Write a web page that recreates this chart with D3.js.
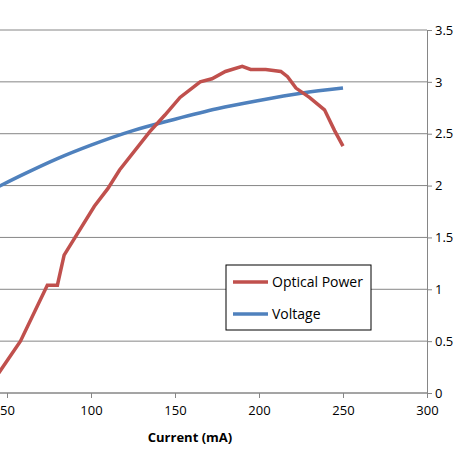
<!DOCTYPE html><html><head><script src="https://cdn.jsdelivr.net/npm/d3@7"></script>
<style>body{margin:0;background:#fff}text{font-family:"Open Sans","Liberation Sans",sans-serif}</style></head><body>
<svg id="c" width="470" height="470"></svg>
<script>
const xTicks=[50,100,150,200,250,300];
const yTicks=[0,0.5,1,1.5,2,2.5,3,3.5];
const powerX=[45,58,74,80,84,102,110,117,135,144,153,165,172,180,190,195,204,213,217,222,230,239,245,250];
const powerY=[0.19,0.5,1.04,1.04,1.33,1.8,1.97,2.15,2.52,2.68,2.85,3.0,3.03,3.1,3.15,3.12,3.12,3.1,3.05,2.94,2.85,2.73,2.53,2.38];
const voltX=[45,60,80,100,125,150,175,200,225,250];
const voltY=[1.99,2.11,2.26,2.39,2.53,2.64,2.74,2.82,2.89,2.94];
const svg=d3.select("#c");
const x=d3.scaleLinear().domain([50,300]).range([7,427]);
const y=d3.scaleLinear().domain([0,3.5]).range([393,30]);
svg.append("g").selectAll("line").data(yTicks).join("line")
 .attr("x1",0).attr("x2",427).attr("y1",d=>y(d)).attr("y2",d=>y(d)).attr("stroke","#868686");
const ya=svg.append("g").attr("transform","translate(427,0)").call(d3.axisRight(y).tickValues(yTicks).tickSize(5).tickFormat(d3.format("")));
ya.select(".domain").attr("stroke","#868686");ya.selectAll("line").attr("stroke","#868686");
ya.selectAll("text").attr("font-size",13).attr("fill","#000").attr("x",8);
const xa=svg.append("g").attr("transform","translate(0,393)").call(d3.axisBottom(x).tickValues(xTicks).tickSize(5));
xa.select(".domain").attr("stroke","#868686").attr("d","M0,0H427");xa.selectAll("line").attr("stroke","#868686");
xa.selectAll("text").attr("font-size",13).attr("fill","#000").attr("dy","1.1em");
svg.append("text").attr("x",190).attr("y",442).attr("text-anchor","middle").attr("font-size",13).attr("font-weight","bold").text("Current (mA)");
const line=d3.line().x(d=>x(d[0])).y(d=>y(d[1]));
svg.append("path").attr("d",line.curve(d3.curveMonotoneX)(voltX.map((v,i)=>[v,voltY[i]]))).attr("fill","none").attr("stroke","#4F81BD").attr("stroke-width",3.5);
svg.append("path").attr("d",line.curve(d3.curveLinear)(powerX.map((v,i)=>[v,powerY[i]]))).attr("fill","none").attr("stroke","#C0504D").attr("stroke-width",3.5);
const lg=svg.append("g");
lg.append("rect").attr("x",226).attr("y",265).attr("width",145).attr("height",65).attr("fill","#fff").attr("stroke","#000");
[["Optical Power","#C0504D",282],["Voltage","#4F81BD",314]].forEach(([t,c,yy])=>{
 lg.append("line").attr("x1",233).attr("x2",268).attr("y1",yy).attr("y2",yy).attr("stroke",c).attr("stroke-width",3.5);
 lg.append("text").attr("x",272).attr("y",yy+5).attr("font-size",14).text(t);
});
</script></body></html>
